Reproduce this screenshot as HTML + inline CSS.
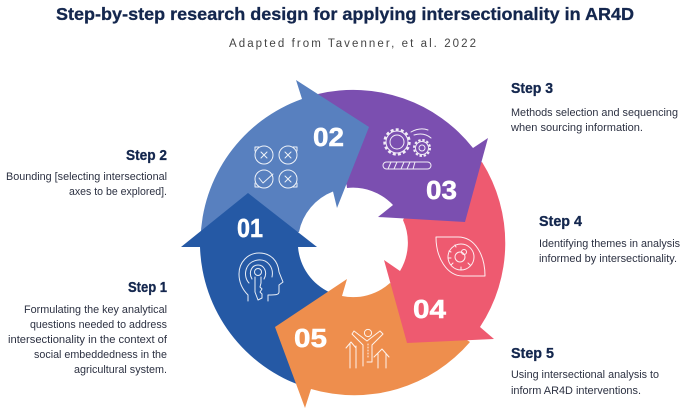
<!DOCTYPE html>
<html><head><meta charset="utf-8"><style>
html,body{margin:0;padding:0;background:#fff;width:685px;height:411px;overflow:hidden}
svg{display:block}
text{font-family:"Liberation Sans",sans-serif}
.b{font-size:11.2px;fill:#2c3142}
.s{font-size:14.5px;font-weight:bold;fill:#14274e;stroke:#14274e;stroke-width:.3}
.n{font-size:26px;font-weight:bold;fill:#fff;stroke:#fff;stroke-width:.5}
.i{fill:none;stroke:#fff;stroke-width:1;opacity:.9;stroke-linecap:round;stroke-linejoin:round}
</style></head><body>
<svg width="685" height="411" viewBox="0 0 685 411" xmlns="http://www.w3.org/2000/svg">
<text x="56" y="20" font-size="17.5" font-weight="bold" fill="#14274e" stroke="#14274e" stroke-width=".3" textLength="578" lengthAdjust="spacingAndGlyphs">Step-by-step research design for applying intersectionality in AR4D</text>
<text x="229" y="47" font-size="11.5" fill="#444" textLength="247">Adapted from Tavenner, et al. 2022</text>

<path d="M200,247A152.5,152.5 0 0 0 305,387L330,292.5A55,55 0 0 1 298,247Z" fill="#2559a5"/>
<path d="M275,327L347,279L342,296A55,55 0 0 0 390,283L420,310L470,342A152.5,152.5 0 0 1 311,389L305,408Z" fill="#ee8e4d"/>
<path d="M384,260L400,271A55,55 0 0 0 403,220L420,190L482,162A152.5,152.5 0 0 1 480,327L494,339L407,343Z" fill="#ee5a70"/>
<path d="M378,217L465,222L488,138L473,148A152.5,152.5 0 0 0 318,94L340,140L347,188A55,55 0 0 1 393,205Z" fill="#7b4fb0"/>
<path d="M296,80L369,127L337,208L333,191.5A55,55 0 0 0 299,232L200.5,240A152.5,152.5 0 0 1 302,99Z" fill="#5880bf"/>
<path d="M248,193L317,247H181Z" fill="#2559a5"/>

<text class="n" x="237" y="237" textLength="26" lengthAdjust="spacingAndGlyphs">01</text>
<text class="n" x="313" y="146" textLength="31" lengthAdjust="spacingAndGlyphs">02</text>
<text class="n" x="426" y="199" textLength="31" lengthAdjust="spacingAndGlyphs">03</text>
<text class="n" x="413" y="318" textLength="33" lengthAdjust="spacingAndGlyphs">04</text>
<text class="n" x="294" y="347" textLength="33" lengthAdjust="spacingAndGlyphs">05</text>

<!-- icon 02 -->
<g class="i">
<circle cx="264" cy="155" r="9"/><path d="M255,147L259,147M255,147L255,151M261,152L267,158M267,152L261,158"/>
<circle cx="288" cy="155" r="9"/><path d="M297,147L293,147M297,147L297,151M285,152L291,158M291,152L285,158"/>
<circle cx="264" cy="179" r="9"/><path d="M255,187L259,187M255,187L255,183M259,178L263,183L273,174"/>
<circle cx="288" cy="179" r="9"/><path d="M297,187L293,187M297,187L297,183M285,176L291,182M291,176L285,182"/>
</g>
<!-- icon 03 -->
<g class="i">
<circle cx="397" cy="142" r="7"/><circle cx="397" cy="142" r="11"/><circle cx="397" cy="142" r="12.5" stroke-dasharray="3 2.2" stroke-width="2.4" stroke-linecap="butt"/>
<circle cx="422" cy="148" r="3"/><circle cx="422" cy="148" r="6.5"/><circle cx="422" cy="148" r="8" stroke-dasharray="2.4 1.8" stroke-width="2" stroke-linecap="butt"/>
<path d="M411,132Q420,127 428,130M414,135Q424,132 431,138"/>
<rect x="383" y="162" width="48" height="7" rx="3.5"/>
<path d="M388,169L391,162M394,169L397,162M401,169L404,162M407,169L410,162M413,169L415,162"/>
</g>
<!-- icon 04 -->
<g class="i">
<path d="M436,237H458C475,237 485,255 485,276H463C447,276 436,258 436,237Z"/>
<circle cx="461" cy="257" r="13"/><circle cx="460" cy="257" r="5"/><circle cx="464" cy="252" r="2.5"/>
<path d="M449,251L451,252M448,258H451M451,265L453,263M461,270V267M470,265L468,263M455,245L456,247"/>
</g>
<!-- icon 05 -->
<g class="i">
<circle cx="368" cy="333" r="3.6"/>
<path d="M354,331L367,341L380,331L383,334L372,345V355L372,362H367M354,331L352,334L363,345V366"/>
<path d="M350,368V344M346,348L351,342L356,348M356,368V346"/>
<path d="M378,368V354M386,368V354M374,357L382,349L389,357"/>
<path d="M368,344V358" stroke-dasharray="1 2"/>
</g>
<!-- icon 01 -->
<g class="i">
<path d="M248,301V295C243,290 239,283 239,274C239,262 248,253 259,253C271,253 278,261 279,272L283,282L279,285V292C279,295 275,295 268,295V301"/>
<path d="M249,283C243,277 244,262 258,260C268,259 274,268 272,277"/>
<path d="M252,279C248,272 252,265 258,265C264,265 268,272 264,279"/>
<circle cx="258" cy="272" r="3.5"/>
<path d="M255,277V292L258,300L262,298V294L260,292L262,289L260,287L261,283V277"/>
</g>

<text class="s" x="126" y="160" textLength="41" lengthAdjust="spacingAndGlyphs">Step 2</text>
<text class="s" x="128" y="292" textLength="39" lengthAdjust="spacingAndGlyphs">Step 1</text>
<text class="b" x="6" y="180" textLength="161" lengthAdjust="spacingAndGlyphs">Bounding [selecting intersectional</text>
<text class="b" x="69" y="195" textLength="98" lengthAdjust="spacingAndGlyphs">axes to be explored].</text>
<text class="b" x="24" y="313" textLength="143" lengthAdjust="spacingAndGlyphs">Formulating the key analytical</text>
<text class="b" x="30" y="328" textLength="137" lengthAdjust="spacingAndGlyphs">questions needed to address</text>
<text class="b" x="8" y="343" textLength="159" lengthAdjust="spacingAndGlyphs">intersectionality in the context of</text>
<text class="b" x="34" y="358" textLength="133" lengthAdjust="spacingAndGlyphs">social embeddedness in the</text>
<text class="b" x="74" y="373" textLength="93" lengthAdjust="spacingAndGlyphs">agricultural system.</text>

<text class="s" x="511" y="93" textLength="42" lengthAdjust="spacingAndGlyphs">Step 3</text>
<text class="b" x="511" y="116" textLength="167" lengthAdjust="spacingAndGlyphs">Methods selection and sequencing</text>
<text class="b" x="511" y="131" textLength="132" lengthAdjust="spacingAndGlyphs">when sourcing information.</text>
<text class="s" x="539" y="226" textLength="43" lengthAdjust="spacingAndGlyphs">Step 4</text>
<text class="b" x="539" y="247" textLength="141" lengthAdjust="spacingAndGlyphs">Identifying themes in analysis</text>
<text class="b" x="539" y="262" textLength="138" lengthAdjust="spacingAndGlyphs">informed by intersectionality.</text>
<text class="s" x="511" y="358" textLength="43" lengthAdjust="spacingAndGlyphs">Step 5</text>
<text class="b" x="511" y="378" textLength="148" lengthAdjust="spacingAndGlyphs">Using intersectional analysis to</text>
<text class="b" x="511" y="394" textLength="130" lengthAdjust="spacingAndGlyphs">inform AR4D interventions.</text>
</svg>
</body></html>
